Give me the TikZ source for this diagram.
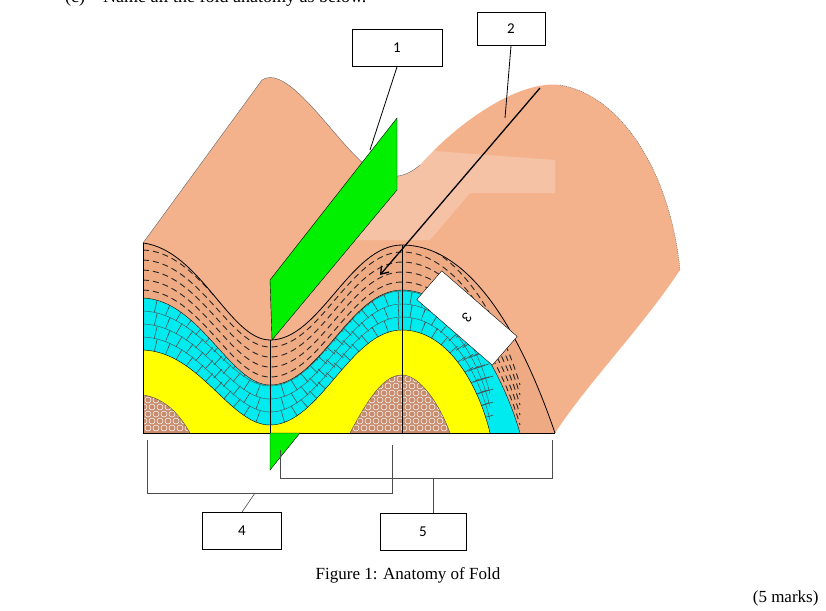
\documentclass[tikz,border=0pt]{standalone}
\usepackage{fontspec}
\setmainfont{Liberation Serif}
\newfontfamily\boxfont{Carlito}
\usetikzlibrary{arrows.meta}
\definecolor{peach}{RGB}{244,178,140}
\definecolor{shale}{RGB}{238,170,130}
\definecolor{lime}{RGB}{0,240,0}
\definecolor{cyanl}{RGB}{0,235,240}
\definecolor{yel}{RGB}{255,255,0}
\definecolor{cong}{RGB}{200,140,110}
\tikzset{lbl/.style={draw,thick,fill=white,minimum width=#1,minimum height=37pt,font=\boxfont\fontsize{15}{17}\selectfont},
 lbl/.default=80pt, brk/.style={draw=black!70,line width=0.6pt}}
\begin{document}
\begin{tikzpicture}[x=1pt,y=-1pt]
\useasboundingbox (0,0) rectangle (826,610);
\def\T{(143,243) .. controls (200,250) and (230,340) .. (270,340) .. controls (320,340) and (350,245) .. (402,245) .. controls (480,245) and (530,360) .. (555,433)}
\def\S{(143,298) .. controls (200,300) and (230,385) .. (270,385) .. controls (320,385) and (350,290) .. (402,290) .. controls (460,290) and (505,380) .. (520,433)}
\def\C{(143,350) .. controls (200,352) and (230,425) .. (270,425) .. controls (320,425) and (350,330) .. (402,330) .. controls (450,330) and (480,390) .. (490,433)}
% partial heading
\node[anchor=base west,font=\fontsize{18}{20}\selectfont,inner sep=0] (head) at (65,3) {(c)\quad Name all the fold anatomy as below.};
% back surface
\fill[peach] (143,243) -- (262,80) .. controls (290,62) and (340,150) .. (372,170) .. controls (390,180) and (405,178) .. (420,165) .. controls (460,120) and (520,80) .. (560,85) .. controls (620,95) and (670,170) .. (680,270) .. controls (640,330) and (590,380) .. (555,433) -- (143,433) -- cycle;
\fill[white,opacity=0.22] (350,240) -- (420,150) -- (555,160) -- (555,193) -- (470,193) -- (430,240) -- cycle;
\draw[black!60,thin] (143,243) -- (262,80) .. controls (290,62) and (340,150) .. (372,170) .. controls (390,180) and (405,178) .. (420,165);
\draw[black!60,thin,dash pattern=on 1pt off 1pt] (560,85) .. controls (620,95) and (670,170) .. (680,270);
% layers
\fill[yel] \C -- (555,433) -- (143,433) -- cycle;
\fill[cong] (143,395) .. controls (165,398) and (180,415) .. (190,433) -- (143,433) -- cycle;
\fill[cong] (350,433) .. controls (370,395) and (385,375) .. (402,375) .. controls (420,375) and (440,405) .. (450,433) -- cycle;
\begin{scope}
\clip (143,395) .. controls (165,398) and (180,415) .. (190,433) -- (143,433) -- cycle (350,433) .. controls (370,395) and (385,375) .. (402,375) .. controls (420,375) and (440,405) .. (450,433) -- cycle;
\foreach \i in {0,...,40} \foreach \j in {0,...,8} \draw[white,line width=0.5pt] ({140+8*\i+4*mod(\j,2)},{372+7*\j}) circle (3);
\end{scope}
\draw[black!70] (143,395) .. controls (165,398) and (180,415) .. (190,433);
\draw[black!70] (350,433) .. controls (370,395) and (385,375) .. (402,375) .. controls (420,375) and (440,405) .. (450,433);
\fill[cyanl] \S -- (520,433) -- (490,433) .. controls (480,390) and (450,330) .. (402,330) .. controls (350,330) and (320,425) .. (270,425) .. controls (230,425) and (200,352) .. (143,350) -- cycle;
\fill[shale] \T -- (520,433) .. controls (505,380) and (460,290) .. (402,290) .. controls (350,290) and (320,385) .. (270,385) .. controls (230,385) and (200,300) .. (143,298) -- cycle;
\begin{scope}
\clip \T -- (520,433) .. controls (505,380) and (460,290) .. (402,290) .. controls (350,290) and (320,385) .. (270,385) .. controls (230,385) and (200,300) .. (143,298) -- cycle;
\foreach \d in {8,18,28,38,48}{\draw[black!85,line width=0.9pt,dash pattern=on 6pt off 4pt,yshift=\d] \S;}
\end{scope}
\begin{scope}
\clip \S -- (520,433) -- (490,433) .. controls (480,390) and (450,330) .. (402,330) .. controls (350,330) and (320,425) .. (270,425) .. controls (230,425) and (200,352) .. (143,350) -- cycle;
\foreach \d in {13,26,39}{\draw[black!70,thin,yshift=\d] \C;}
\foreach \d in {6.5,19.5,32.5,45.5}{\draw[black!70,dash pattern=on 0.6pt off 12pt,line width=12pt,yshift=\d] \C;}
\end{scope}
\draw[thick] \T;
\draw[thin] \S; \draw[thin] \C;
\draw[thick] (143,243) -- (143,433) -- (555,433);
% axes lines
\draw (270,340) -- (270,433);
\draw (402,245) -- (402,433);
% green plane
\fill[lime,draw=black] (270,280) -- (397,118) -- (397,190) -- (272,340) -- cycle;
\fill[lime,draw=black] (270,433) -- (270,470) -- (300,433) -- cycle;
% labels
\node[lbl=90pt] (b1) at (397,48) {1};
\node[lbl=68pt,minimum height=33pt] (b2) at (511,29) {2};
\draw[thick] (b1.south) -- (370,150);
\draw[thick] (b2.south) -- (505,118);
\coordinate (a2s) at (540,88);
\coordinate (a2e) at (380,275);
\draw[line width=1.3pt,-{Straight Barb[length=7pt,width=10pt]}] (a2s) -- (a2e);
\node[draw,fill=white,minimum width=100pt,minimum height=38pt,rotate=-41,font=\boxfont\fontsize{15}{17}\selectfont] (b3) at (467,318) {\rotatebox{-90}{3}};
% brackets
\coordinate (k1) at (147,440); \coordinate (k2) at (392,445);
\draw[brk] (k1) -- (147,493) -- (392,493) -- (k2);
\node[lbl=79pt] (b4) at (242,531) {4};
\draw[brk] (255,493) -- (b4.north);
\coordinate (m1) at (552,440);
\draw[brk] (280,450) -- (280,478) -- (552,478) -- (m1);
\node[lbl=86pt] (b5) at (423,532) {5};
\draw[brk] (433,478) -- (433,513);
\node[font=\fontsize{17}{19}\selectfont] (cap) at (408,575) {Figure 1: Anatomy of Fold};
\node[font=\fontsize{17}{19}\selectfont,anchor=east] (marks) at (822,598) {(5 marks)};
\end{tikzpicture}
\end{document}
